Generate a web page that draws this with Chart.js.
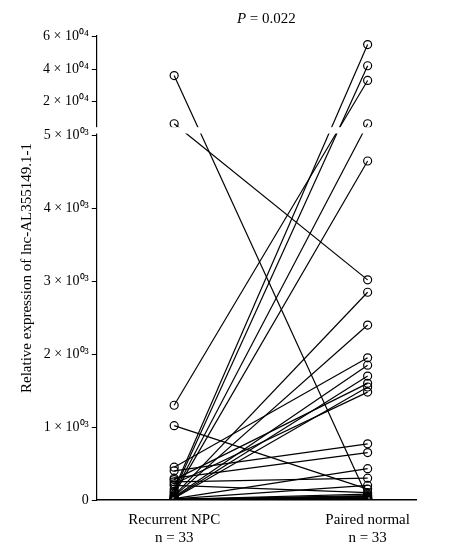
<!DOCTYPE html>
<html>
<head>
<script src="https://cdn.jsdelivr.net/npm/chart.js"></script>
<style>body{margin:0;background:#fff}#wrap{width:474px;height:556px}</style>
</head>
<body>
<div id="wrap"><canvas id="pairChart"></canvas></div>
<script>
const groups = ["Recurrent NPC", "Paired normal"];
const groupN = ["n = 33", "n = 33"];
const recurrent = [36000, 6500, 1300, 1020, 450, 400, 300, 280, 250, 220, 200, 150, 120, 100, 80, 60, 50, 40, 30, 25, 20, 15, 10, 10, 8, 5, 5, 3, 3, 2, 2, 1, 1];
const paired = [30, 3020, 33000, 150, 1950, 770, 650, 1600, 300, 1480, 100, 55000, 42000, 6500, 4650, 2850, 2400, 1850, 1700, 1550, 430, 200, 80, 60, 50, 40, 30, 20, 15, 10, 5, 3, 2];
const lowTicks = [0, 1000, 2000, 3000, 4000, 5000];
const highTicks = [20000, 40000, 60000];

// broken axis: values above 5000 are compressed and shifted past a gap
const BREAK = 5000, GAP = 128, K = 0.0224;
const toAxis = v => v <= BREAK ? v : BREAK + GAP + (v - BREAK) * K;
const sup = {"0":"⁰","1":"¹","2":"²","3":"³","4":"⁴","5":"⁵","6":"⁶","7":"⁷","8":"⁸","9":"⁹"};
const sci = v => {
  if (v === 0) return "0";
  const e = Math.floor(Math.log10(v));
  const m = Math.round(v / Math.pow(10, e));
  return m + " × 10" + ("0" + e).split("").map(c => sup[c]).join("");
};
const tickVals = lowTicks.concat(highTicks);

const datasets = recurrent.map((r, i) => ({
  data: [{x: 0, y: toAxis(r)}, {x: 1, y: toAxis(paired[i])}],
  borderColor: "#000",
  borderWidth: 1.2,
  pointRadius: 4,
  pointBorderWidth: 1.2,
  pointBackgroundColor: "rgba(255,255,255,0)",
  pointBorderColor: "#000"
}));

const breakPlugin = {
  id: "breakMask",
  afterDraw(chart) {
    const c = chart.ctx, y = chart.scales.y, a = chart.chartArea;
    const y1 = y.getPixelForValue(BREAK) - 2, y0 = y.getPixelForValue(BREAK + GAP) + 1;
    c.save();
    c.fillStyle = "#fff";
    c.fillRect(a.left - 8, y0, a.right - a.left + 20, y1 - y0);
    c.fillStyle = "#000";
    const t = " = 0.022";
    c.font = "15px 'Liberation Serif'";
    const w = c.measureText(t).width;
    c.font = "italic 15px 'Liberation Serif'";
    const pw = c.measureText("P").width;
    const cx = (a.left + a.right) / 2 + 10, ty = 23;
    c.textAlign = "left";
    c.fillText("P", cx - (w + pw) / 2, ty);
    c.font = "15px 'Liberation Serif'";
    c.fillText(t, cx - (w + pw) / 2 + pw, ty);
    c.restore();
  }
};

new Chart(document.getElementById("pairChart"), {
  type: "line",
  data: { datasets },
  plugins: [breakPlugin],
  options: {
    responsive: true,
    maintainAspectRatio: false,
    animation: false,
    layout: { padding: { top: 36, right: 58, left: 14, bottom: 6 } },
    plugins: { legend: { display: false }, tooltip: { enabled: false } },
    scales: {
      x: {
        type: "linear",
        min: -0.4,
        max: 1.25,
        afterBuildTicks: s => { s.ticks = [{value: 0}, {value: 1}]; },
        ticks: {
          color: "#000",
          font: { family: "'Liberation Serif'", size: 15 },
          callback: v => [groups[v], groupN[v]],
          maxRotation: 0
        },
        grid: { display: false },
        border: { color: "#000", width: 1.5 }
      },
      y: {
        min: 0,
        max: toAxis(60000) + 5,
        afterBuildTicks: s => { s.ticks = tickVals.map(v => ({value: toAxis(v)})); },
        ticks: {
          color: "#000",
          font: { family: "'Liberation Serif'", size: 14 },
          callback: (v, i) => sci(tickVals[i]),
          autoSkip: false
        },
        grid: { drawOnChartArea: false, drawTicks: true, tickLength: 5, color: "#000" },
        border: { color: "#000", width: 1.2 },
        title: {
          display: true,
          text: "Relative expression of lnc-AL355149.1-1",
          color: "#000",
          font: { family: "'Liberation Serif'", size: 15 }
        }
      }
    }
  }
});
</script>
</body>
</html>
